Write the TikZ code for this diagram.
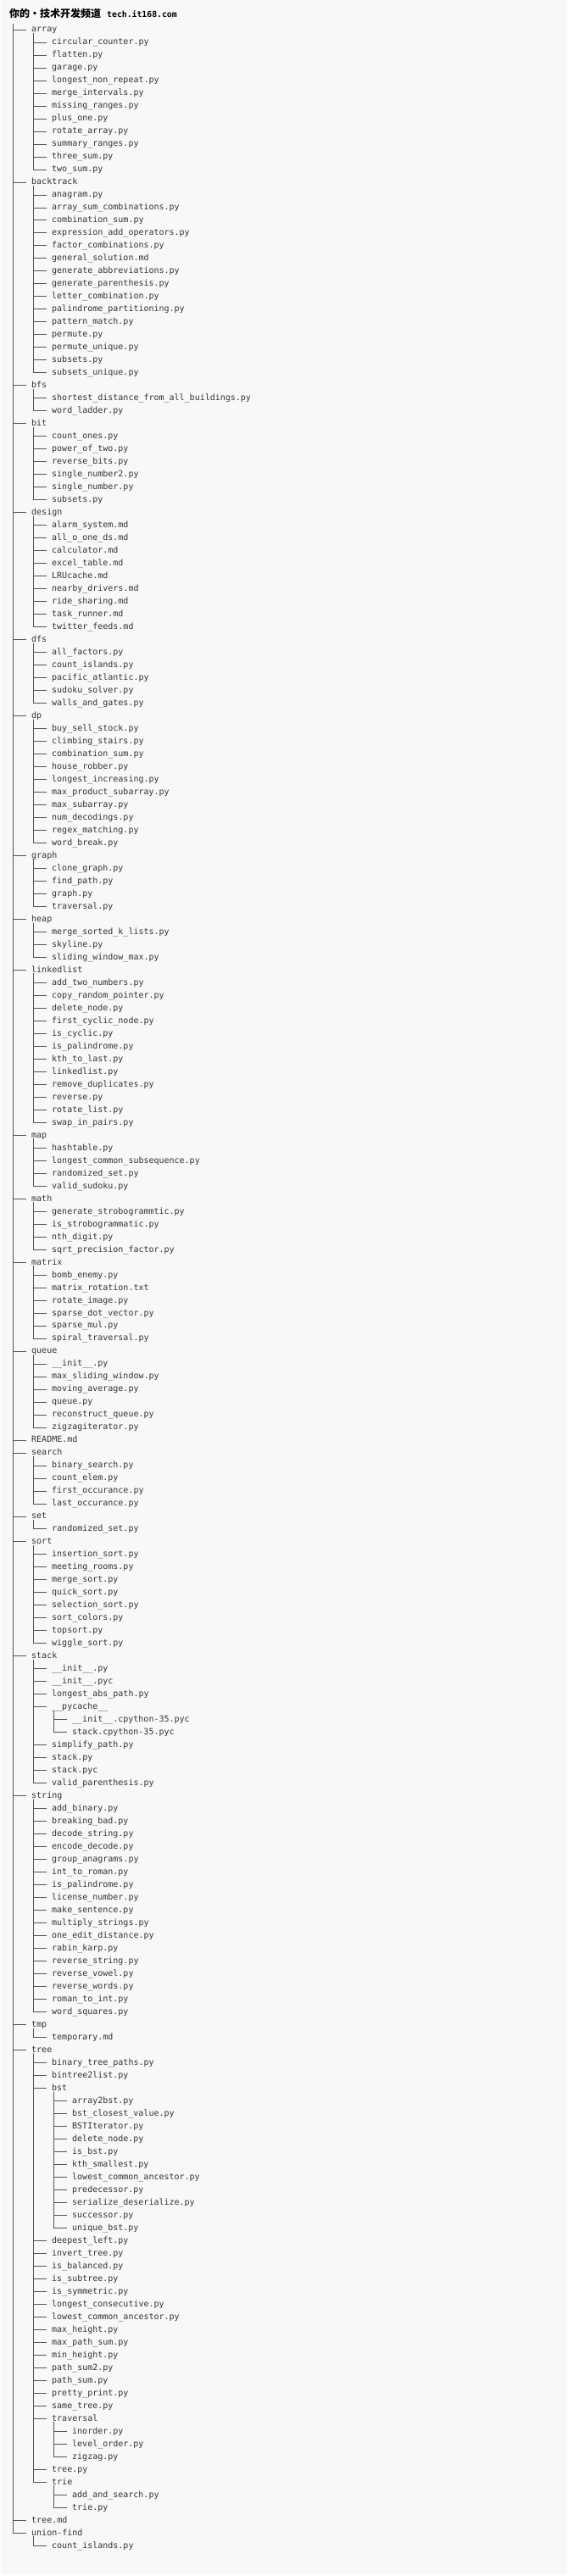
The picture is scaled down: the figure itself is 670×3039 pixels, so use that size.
\documentclass[tikz,border=0pt]{standalone}
\usepackage{fontspec}
\setmonofont{DejaVu Sans Mono}
\newfontfamily\cjk{Noto Sans CJK SC}
\newfontfamily\hdrmono{DejaVu Sans Mono}
\definecolor{bgc}{HTML}{F6F8FA}
\definecolor{txtc}{HTML}{333333}
\definecolor{linec}{HTML}{555555}
\begin{document}
\begin{tikzpicture}[x=1bp,y=-1bp,
  item/.style={anchor=base west, inner sep=0pt, text height=7bp, text depth=1bp,
    font=\ttfamily\fontsize{10bp}{12bp}\selectfont, text=txtc},
  conn/.style={draw=linec, line width=0.7bp}]
\useasboundingbox (0,0) rectangle (670,3039);
\fill[white] (0,0) rectangle (670,3039);
\fill[bgc] (1,0) rectangle (669,3037);
\node[anchor=base west, inner sep=0pt] (hdr) at (11,21)
  {\cjk\bfseries\fontsize{12bp}{14bp}\selectfont 你的\makebox[12bp]{•}技术开发频道\hspace{7bp}{\hdrmono\bfseries\fontsize{9.8bp}{12bp}\selectfont tech.it168.com}};
\node[item] (root) at (13,27) {};
\foreach \d/\pa/\t [count=\i from 0] in {
0/root/array,
1/n0/circular\_counter.py,
1/n0/flatten.py,
1/n0/garage.py,
1/n0/longest\_non\_repeat.py,
1/n0/merge\_intervals.py,
1/n0/missing\_ranges.py,
1/n0/plus\_one.py,
1/n0/rotate\_array.py,
1/n0/summary\_ranges.py,
1/n0/three\_sum.py,
1/n0/two\_sum.py,
0/root/backtrack,
1/n12/anagram.py,
1/n12/array\_sum\_combinations.py,
1/n12/combination\_sum.py,
1/n12/expression\_add\_operators.py,
1/n12/factor\_combinations.py,
1/n12/general\_solution.md,
1/n12/generate\_abbreviations.py,
1/n12/generate\_parenthesis.py,
1/n12/letter\_combination.py,
1/n12/palindrome\_partitioning.py,
1/n12/pattern\_match.py,
1/n12/permute.py,
1/n12/permute\_unique.py,
1/n12/subsets.py,
1/n12/subsets\_unique.py,
0/root/bfs,
1/n28/shortest\_distance\_from\_all\_buildings.py,
1/n28/word\_ladder.py,
0/root/bit,
1/n31/count\_ones.py,
1/n31/power\_of\_two.py,
1/n31/reverse\_bits.py,
1/n31/single\_number2.py,
1/n31/single\_number.py,
1/n31/subsets.py,
0/root/design,
1/n38/alarm\_system.md,
1/n38/all\_o\_one\_ds.md,
1/n38/calculator.md,
1/n38/excel\_table.md,
1/n38/LRUcache.md,
1/n38/nearby\_drivers.md,
1/n38/ride\_sharing.md,
1/n38/task\_runner.md,
1/n38/twitter\_feeds.md,
0/root/dfs,
1/n48/all\_factors.py,
1/n48/count\_islands.py,
1/n48/pacific\_atlantic.py,
1/n48/sudoku\_solver.py,
1/n48/walls\_and\_gates.py,
0/root/dp,
1/n54/buy\_sell\_stock.py,
1/n54/climbing\_stairs.py,
1/n54/combination\_sum.py,
1/n54/house\_robber.py,
1/n54/longest\_increasing.py,
1/n54/max\_product\_subarray.py,
1/n54/max\_subarray.py,
1/n54/num\_decodings.py,
1/n54/regex\_matching.py,
1/n54/word\_break.py,
0/root/graph,
1/n65/clone\_graph.py,
1/n65/find\_path.py,
1/n65/graph.py,
1/n65/traversal.py,
0/root/heap,
1/n70/merge\_sorted\_k\_lists.py,
1/n70/skyline.py,
1/n70/sliding\_window\_max.py,
0/root/linkedlist,
1/n74/add\_two\_numbers.py,
1/n74/copy\_random\_pointer.py,
1/n74/delete\_node.py,
1/n74/first\_cyclic\_node.py,
1/n74/is\_cyclic.py,
1/n74/is\_palindrome.py,
1/n74/kth\_to\_last.py,
1/n74/linkedlist.py,
1/n74/remove\_duplicates.py,
1/n74/reverse.py,
1/n74/rotate\_list.py,
1/n74/swap\_in\_pairs.py,
0/root/map,
1/n87/hashtable.py,
1/n87/longest\_common\_subsequence.py,
1/n87/randomized\_set.py,
1/n87/valid\_sudoku.py,
0/root/math,
1/n92/generate\_strobogrammtic.py,
1/n92/is\_strobogrammatic.py,
1/n92/nth\_digit.py,
1/n92/sqrt\_precision\_factor.py,
0/root/matrix,
1/n97/bomb\_enemy.py,
1/n97/matrix\_rotation.txt,
1/n97/rotate\_image.py,
1/n97/sparse\_dot\_vector.py,
1/n97/sparse\_mul.py,
1/n97/spiral\_traversal.py,
0/root/queue,
1/n104/\_\_init\_\_.py,
1/n104/max\_sliding\_window.py,
1/n104/moving\_average.py,
1/n104/queue.py,
1/n104/reconstruct\_queue.py,
1/n104/zigzagiterator.py,
0/root/README.md,
0/root/search,
1/n112/binary\_search.py,
1/n112/count\_elem.py,
1/n112/first\_occurance.py,
1/n112/last\_occurance.py,
0/root/set,
1/n117/randomized\_set.py,
0/root/sort,
1/n119/insertion\_sort.py,
1/n119/meeting\_rooms.py,
1/n119/merge\_sort.py,
1/n119/quick\_sort.py,
1/n119/selection\_sort.py,
1/n119/sort\_colors.py,
1/n119/topsort.py,
1/n119/wiggle\_sort.py,
0/root/stack,
1/n128/\_\_init\_\_.py,
1/n128/\_\_init\_\_.pyc,
1/n128/longest\_abs\_path.py,
1/n128/\_\_pycache\_\_,
2/n132/\_\_init\_\_.cpython-35.pyc,
2/n132/stack.cpython-35.pyc,
1/n128/simplify\_path.py,
1/n128/stack.py,
1/n128/stack.pyc,
1/n128/valid\_parenthesis.py,
0/root/string,
1/n139/add\_binary.py,
1/n139/breaking\_bad.py,
1/n139/decode\_string.py,
1/n139/encode\_decode.py,
1/n139/group\_anagrams.py,
1/n139/int\_to\_roman.py,
1/n139/is\_palindrome.py,
1/n139/license\_number.py,
1/n139/make\_sentence.py,
1/n139/multiply\_strings.py,
1/n139/one\_edit\_distance.py,
1/n139/rabin\_karp.py,
1/n139/reverse\_string.py,
1/n139/reverse\_vowel.py,
1/n139/reverse\_words.py,
1/n139/roman\_to\_int.py,
1/n139/word\_squares.py,
0/root/tmp,
1/n157/temporary.md,
0/root/tree,
1/n159/binary\_tree\_paths.py,
1/n159/bintree2list.py,
1/n159/bst,
2/n162/array2bst.py,
2/n162/bst\_closest\_value.py,
2/n162/BSTIterator.py,
2/n162/delete\_node.py,
2/n162/is\_bst.py,
2/n162/kth\_smallest.py,
2/n162/lowest\_common\_ancestor.py,
2/n162/predecessor.py,
2/n162/serialize\_deserialize.py,
2/n162/successor.py,
2/n162/unique\_bst.py,
1/n159/deepest\_left.py,
1/n159/invert\_tree.py,
1/n159/is\_balanced.py,
1/n159/is\_subtree.py,
1/n159/is\_symmetric.py,
1/n159/longest\_consecutive.py,
1/n159/lowest\_common\_ancestor.py,
1/n159/max\_height.py,
1/n159/max\_path\_sum.py,
1/n159/min\_height.py,
1/n159/path\_sum2.py,
1/n159/path\_sum.py,
1/n159/pretty\_print.py,
1/n159/same\_tree.py,
1/n159/traversal,
2/n188/inorder.py,
2/n188/level\_order.py,
2/n188/zigzag.py,
1/n159/tree.py,
1/n159/trie,
2/n193/add\_and\_search.py,
2/n193/trie.py,
0/root/tree.md,
0/root/union-find,
1/n197/count\_islands.py%
}{
  \node[item] (n\i) at ({37+24*\d},{38+14.99*\i}) {\t};
  \draw[conn] ([xshift=2.5bp]\pa.south west) |- ([xshift=-6bp]n\i.west);
}
\end{tikzpicture}
\end{document}
